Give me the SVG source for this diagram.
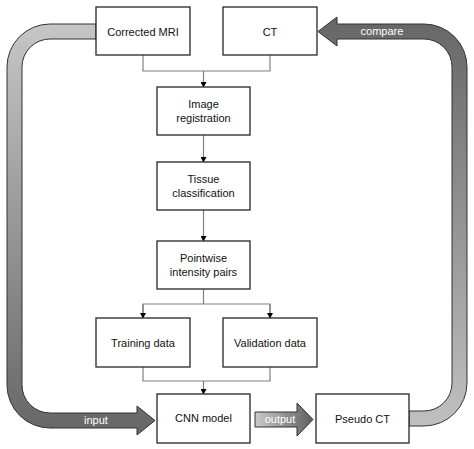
<svg xmlns="http://www.w3.org/2000/svg" width="474" height="449" viewBox="0 0 474 449">
<style>
.box{fill:#fff;stroke:#262626;stroke-width:1.3}
.t{font-family:"Liberation Sans",Arial,sans-serif;font-size:11px;fill:#111;text-anchor:middle}
.w{font-family:"Liberation Sans",Arial,sans-serif;font-size:11px;fill:#fff;text-anchor:middle}
.ln{fill:none;stroke:#808080;stroke-width:1.2}
.big{stroke:#333;stroke-width:1}
</style>
<defs>
<marker id="ah" markerWidth="6" markerHeight="6" refX="5" refY="3" orient="auto" markerUnits="userSpaceOnUse">
<path d="M0,0 L5.5,3 L0,6 Z" fill="#000"/>
</marker>
<linearGradient id="gl" gradientUnits="userSpaceOnUse" x1="0" y1="24" x2="0" y2="435">
<stop offset="0" stop-color="#c6c6c6"/><stop offset="1" stop-color="#666"/>
</linearGradient>
<linearGradient id="gr" gradientUnits="userSpaceOnUse" x1="0" y1="426" x2="0" y2="17">
<stop offset="0" stop-color="#c0c0c0"/><stop offset="1" stop-color="#666"/>
</linearGradient>
<linearGradient id="go" gradientUnits="userSpaceOnUse" x1="255" y1="0" x2="313" y2="0">
<stop offset="0" stop-color="#cacaca"/><stop offset="1" stop-color="#5e5e5e"/>
</linearGradient>
</defs>
<rect width="474" height="449" fill="#fff"/>
<g id="loops">
<path id="input-arrow" class="big" fill="url(#gl)" d="M96,24 L50,24 A43,43 0 0 0 7,67 L7,385 A43,43 0 0 0 50,428 L137,428 L137,435 L155,420.5 L137,406 L137,413 L50,413 A28,28 0 0 1 22,385 L22,67 A28,28 0 0 1 50,39 L96,39 Z"/>
<path id="compare-arrow" class="big" fill="url(#gr)" d="M409,411 L424,411 A28,28 0 0 0 452,383 L452,67 A28,28 0 0 0 424,39 L337,39 L337,46 L318,31.5 L337,17 L337,24 L424,24 A43,43 0 0 1 467,67 L467,383 A43,43 0 0 1 424,426 L409,426 Z"/>
<path id="output-arrow" class="big" fill="url(#go)" d="M255,412 L297,412 L297,403 L313,419.5 L297,436 L297,427 L255,427 Z"/>
<text class="w" x="96" y="424">input</text>
<text class="w" x="280" y="423">output</text>
<text class="w" x="382" y="35">compare</text>
</g>
<g id="connectors">
<path class="ln" d="M143,55 V71 H270 V55"/>
<path class="ln" d="M203.5,71 V87" marker-end="url(#ah)"/>
<path class="ln" d="M203.5,135 V162" marker-end="url(#ah)"/>
<path class="ln" d="M203.5,210 V241" marker-end="url(#ah)"/>
<path class="ln" d="M203.5,289 V304"/>
<path class="ln" d="M143,318 V304 H270 V318"/>
<path class="ln" d="M143,304 V318" marker-end="url(#ah)"/>
<path class="ln" d="M270,304 V318" marker-end="url(#ah)"/>
<path class="ln" d="M143,367 V381 H270 V367"/>
<path class="ln" d="M203.5,381 V394" marker-end="url(#ah)"/>
</g>
<g id="mri"><rect class="box" x="96" y="7" width="94" height="48"/><text class="t" x="143" y="36">Corrected MRI</text></g>
<g id="ct"><rect class="box" x="223" y="7" width="94" height="48"/><text class="t" x="270" y="36">CT</text></g>
<g id="registration"><rect class="box" x="157" y="87" width="93" height="48"/><text class="t" x="203.5" y="108">Image</text><text class="t" x="203.5" y="122">registration</text></g>
<g id="tissue"><rect class="box" x="157" y="162" width="93" height="48"/><text class="t" x="203.5" y="183">Tissue</text><text class="t" x="203.5" y="197">classification</text></g>
<g id="pointwise"><rect class="box" x="157" y="241" width="93" height="48"/><text class="t" x="203.5" y="262">Pointwise</text><text class="t" x="203.5" y="276">intensity pairs</text></g>
<g id="training"><rect class="box" x="96" y="318" width="94" height="49"/><text class="t" x="143" y="347">Training data</text></g>
<g id="validation"><rect class="box" x="223" y="318" width="94" height="49"/><text class="t" x="270" y="347">Validation data</text></g>
<g id="cnn"><rect class="box" x="157" y="394" width="93" height="49"/><text class="t" x="203.5" y="422">CNN model</text></g>
<g id="pseudoct"><rect class="box" x="316" y="394" width="93" height="49"/><text class="t" x="362.5" y="423">Pseudo CT</text></g>
</svg>
